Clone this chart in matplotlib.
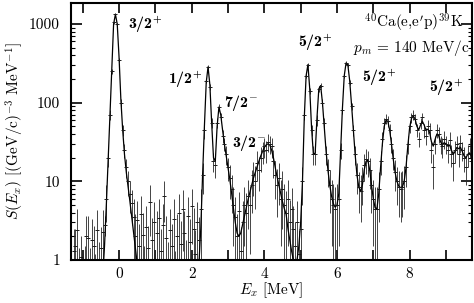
import numpy as np
import matplotlib
matplotlib.use("Agg")
import matplotlib.pyplot as plt
from matplotlib.ticker import FixedLocator, NullFormatter, LogLocator

plt.rcParams['font.family'] = 'serif'
plt.rcParams['font.serif'] = ['cmr10', 'DejaVu Serif']
plt.rcParams['mathtext.fontset'] = 'custom'
plt.rcParams['mathtext.rm'] = 'cmr10'
plt.rcParams['mathtext.it'] = 'cmmi10'
plt.rcParams['mathtext.bf'] = 'cmb10'
plt.rcParams['mathtext.fallback'] = 'cm'
plt.rcParams['axes.formatter.use_mathtext'] = True

# excitation energy bins (MeV), 0.05 MeV wide
ex = np.round(np.arange(-1.25, 9.7001, 0.05), 2)

# measured spectral function S(Ex), one row = 10 bins
s_data = [
    1.3, 1.5, 2.4, 0.6, 1.1, 0.5, 0.7, 2.0, 1.9, 0.6,
    1.8, 1.5, 0.5, 2.4, 0.8, 1.4, 2.3, 2.8, 6, 20,
    70, 250, 1050, 1350, 1000, 350, 100, 45, 25, 15,
    10, 7, 5.3, 3.5, 2.0, 3.2, 1.5, 3.8, 2.1, 0.7,
    2.6, 1.4, 5.5, 1.8, 3.0, 0.6, 2.2, 3.4, 1.3, 2.8,
    6.5, 1.9, 0.8, 2.4, 1.5, 3.3, 0.6, 2.0, 4.0, 1.6,
    4.5, 2.2, 0.9, 3.6, 1.7, 4.8, 2.5, 1.2, 3.0, 1.8,
    4.5, 12, 45, 190, 285, 160, 55, 18, 16, 55,
    88, 65, 38, 30, 22, 15, 11, 8, 5, 3.5,
    2.0, 4.2, 1.3, 3.0, 5.0, 4.0, 6.5, 5.0, 9, 12,
    10, 17, 14, 20, 24, 28, 25, 32, 30, 28,
    18, 12, 9, 11, 6, 8, 5, 4, 6, 3,
    4.5, 2.5, 1.5, 3, 1.2, 2.5, 10, 70, 220, 305,
    140, 45, 22, 22, 60, 150, 165, 100, 55, 22,
    14, 9, 6, 5, 4.5, 5, 6, 25, 80, 220,
    320, 300, 180, 90, 45, 22, 12, 8.5, 7.5, 10,
    16, 19, 18, 14, 9, 6, 4.5, 4.5, 8, 18,
    35, 55, 62, 58, 45, 30, 20, 13, 10, 8.5,
    8, 8.5, 10, 15, 30, 50, 65, 70, 62, 45,
    35, 55, 65, 45, 38, 50, 45, 25, 15, 30,
    45, 40, 30, 28, 35, 30, 25, 34, 22, 17,
    25, 30, 22, 31, 25, 20, 15, 22, 28, 18,
]

s_err = [
    1.2, 1.0, 2.0, 0.8, 0.9, 0.7, 0.8, 1.6, 1.7, 0.8,
    1.5, 1.2, 0.7, 1.9, 0.9, 1.2, 2.0, 0.8, 3, 5,
    10, 20, 40, 45, 40, 25, 12, 7, 5, 4,
    3.5, 3, 2.5, 2.5, 1.8, 2.5, 1.4, 2.8, 1.9, 0.8,
    2.2, 1.3, 3.5, 1.6, 2.4, 0.7, 2.0, 2.6, 1.2, 2.4,
    3.5, 1.7, 0.9, 2.1, 1.4, 2.6, 0.7, 1.8, 3.0, 1.5,
    3.2, 2.0, 0.9, 2.8, 1.6, 3.2, 2.1, 1.2, 2.5, 1.7,
    3.5, 5, 10, 14, 16, 13, 8, 5, 5, 8,
    9, 8, 7, 6, 6, 5, 5, 4, 3.5, 2.8,
    1.8, 3.2, 1.3, 2.6, 3.5, 3.2, 4, 3.8, 5, 5.5,
    5.5, 7, 6.5, 7, 7.5, 8, 8, 8.5, 8, 8,
    7, 6, 5.5, 6, 4.5, 5.5, 4.2, 3.5, 4.5, 2.8,
    3.8, 2.3, 1.5, 2.7, 1.2, 2.3, 5, 9, 15, 18,
    12, 7, 6, 6, 9, 13, 13, 10, 8, 6,
    5.5, 5, 4.5, 4.2, 4, 4.2, 4.5, 6, 9, 15,
    18, 17, 13, 9, 7, 6, 5, 4.5, 4.5, 5,
    6, 6.5, 6.5, 6, 5, 4.5, 4, 4, 5, 6,
    7, 9, 9, 9, 8, 7, 6, 5.5, 5, 5,
    5, 5, 5.5, 6.5, 7.5, 9, 10, 10, 9, 8,
    8, 9, 10, 9, 9, 10, 10, 8, 7, 8,
    9, 9, 8, 8, 9, 8, 8, 8, 7, 7,
    8, 8, 7, 8, 7, 7, 6, 7, 8, 7,
]

# fitted curve, same bins
s_fit = [
    0.5, 0.5, 0.5, 0.5, 0.5, 0.5, 0.5, 0.5, 0.5, 0.5,
    0.5, 0.5, 0.5, 0.5, 0.5, 0.5, 0.6, 1.5, 5, 18,
    70, 260, 1000, 1330, 1000, 380, 110, 45, 22, 13,
    8.5, 5.5, 3.5, 2.2, 1.4, 0.9, 0.6, 0.5, 0.5, 0.5,
    0.5, 0.5, 0.5, 0.5, 0.5, 0.5, 0.5, 0.5, 0.5, 0.5,
    0.5, 0.5, 0.5, 0.5, 0.5, 0.5, 0.5, 0.5, 0.5, 0.5,
    0.5, 0.5, 0.5, 0.5, 0.5, 0.5, 0.5, 0.5, 0.6, 0.9,
    2.5, 12, 50, 180, 285, 170, 55, 20, 18, 50,
    88, 70, 45, 30, 21, 15, 10.5, 7, 4.5, 3,
    2.2, 2.0, 2.2, 2.8, 3.6, 4.6, 5.8, 7.2, 9, 11,
    13, 15.5, 18, 21, 24, 27, 29, 30, 29, 25,
    20, 15, 11.5, 9, 7, 5.5, 4.5, 3.8, 2.5, 1.8,
    1.3, 1.0, 0.9, 1.0, 1.5, 3, 10, 65, 220, 305,
    150, 48, 22, 23, 65, 150, 165, 100, 50, 24,
    14, 9, 6.5, 5.2, 4.7, 5, 7, 25, 85, 220,
    320, 300, 190, 95, 45, 22, 12, 8.5, 7.4, 9,
    14, 18, 18.5, 14, 9, 6, 4.6, 4.5, 7, 15,
    30, 50, 60, 58, 45, 30, 19, 13, 10, 8.7,
    8.3, 8.5, 10, 15, 28, 48, 63, 68, 62, 50,
    45, 52, 58, 52, 45, 46, 42, 32, 28, 34,
    40, 38, 32, 29, 31, 30, 28, 29, 25, 22,
    24, 27, 26, 27, 24, 21, 20, 22, 23, 21,
]

# level labels: text, x, y
levels = [
    (r"$\mathbf{3/2^{+}}$", 0.25, 980),
    (r"$\mathbf{1/2^{+}}$", 1.35, 195),
    (r"$\mathbf{7/2^{-}}$", 2.88, 100),
    (r"$\mathbf{3/2^{-}}$", 3.10, 31),
    (r"$\mathbf{5/2^{+}}$", 4.92, 580),
    (r"$\mathbf{5/2^{+}}$", 6.70, 208),
    (r"$\mathbf{5/2^{+}}$", 8.54, 155),
]

y = np.array(s_data)
e = np.array(s_err)
lower = np.minimum(e, y * 0.99)

fig = plt.figure(figsize=(4.74, 3.03), dpi=100)
ax = fig.add_axes([0.150, 0.142, 0.846, 0.848])

ax.errorbar(ex, y, yerr=[lower, e], fmt='_', ms=2.5, mew=0.7, color='0.1',
            ecolor='0.15', elinewidth=0.6, capsize=0)
ax.plot(ex, s_fit, color='k', lw=0.9)

ax.set_yscale('log')
ax.set_xlim(-1.32, 9.72)
ax.set_ylim(1, 1850)

ax.xaxis.set_major_locator(FixedLocator([0, 2, 4, 6, 8]))
ax.xaxis.set_minor_locator(FixedLocator([-1, 1, 3, 5, 7, 9]))
ax.yaxis.set_major_locator(FixedLocator([1, 10, 100, 1000]))
ax.yaxis.set_minor_locator(LogLocator(base=10, subs=np.arange(2, 10)))
ax.yaxis.set_minor_formatter(NullFormatter())
ax.set_yticklabels(["1", "10", "100", "1000"])
ax.set_xticklabels(["0", "2", "4", "6", "8"])

ax.tick_params(which='both', direction='in', top=True, right=True, labelsize=11, width=1.2)
ax.tick_params(axis='x', which='both', length=7, pad=5)
ax.tick_params(axis='y', which='major', length=8, pad=8)
ax.tick_params(axis='y', which='minor', length=3, width=0.8)
for sp in ax.spines.values():
    sp.set_linewidth(1.5)

for txt, lx, ly in levels:
    ax.text(lx, ly, txt, fontsize=11.5, ha='left', va='center')

ax.text(0.978, 0.922, r"$^{40}$Ca(e,e$'$p)$^{39}$K", transform=ax.transAxes,
        fontsize=11, ha='right', va='center')
ax.text(0.995, 0.825, r"$p_m$ = 140 MeV/c", transform=ax.transAxes,
        fontsize=11, ha='right', va='center')

ax.set_xlabel(r"$E_x$ [MeV]", fontsize=11, labelpad=0)
ax.set_ylabel(r"$S(E_x)$ [(GeV/c)$^{-3}$ MeV$^{-1}$]", fontsize=11, labelpad=2)

plt.savefig("out.png", dpi=100)
